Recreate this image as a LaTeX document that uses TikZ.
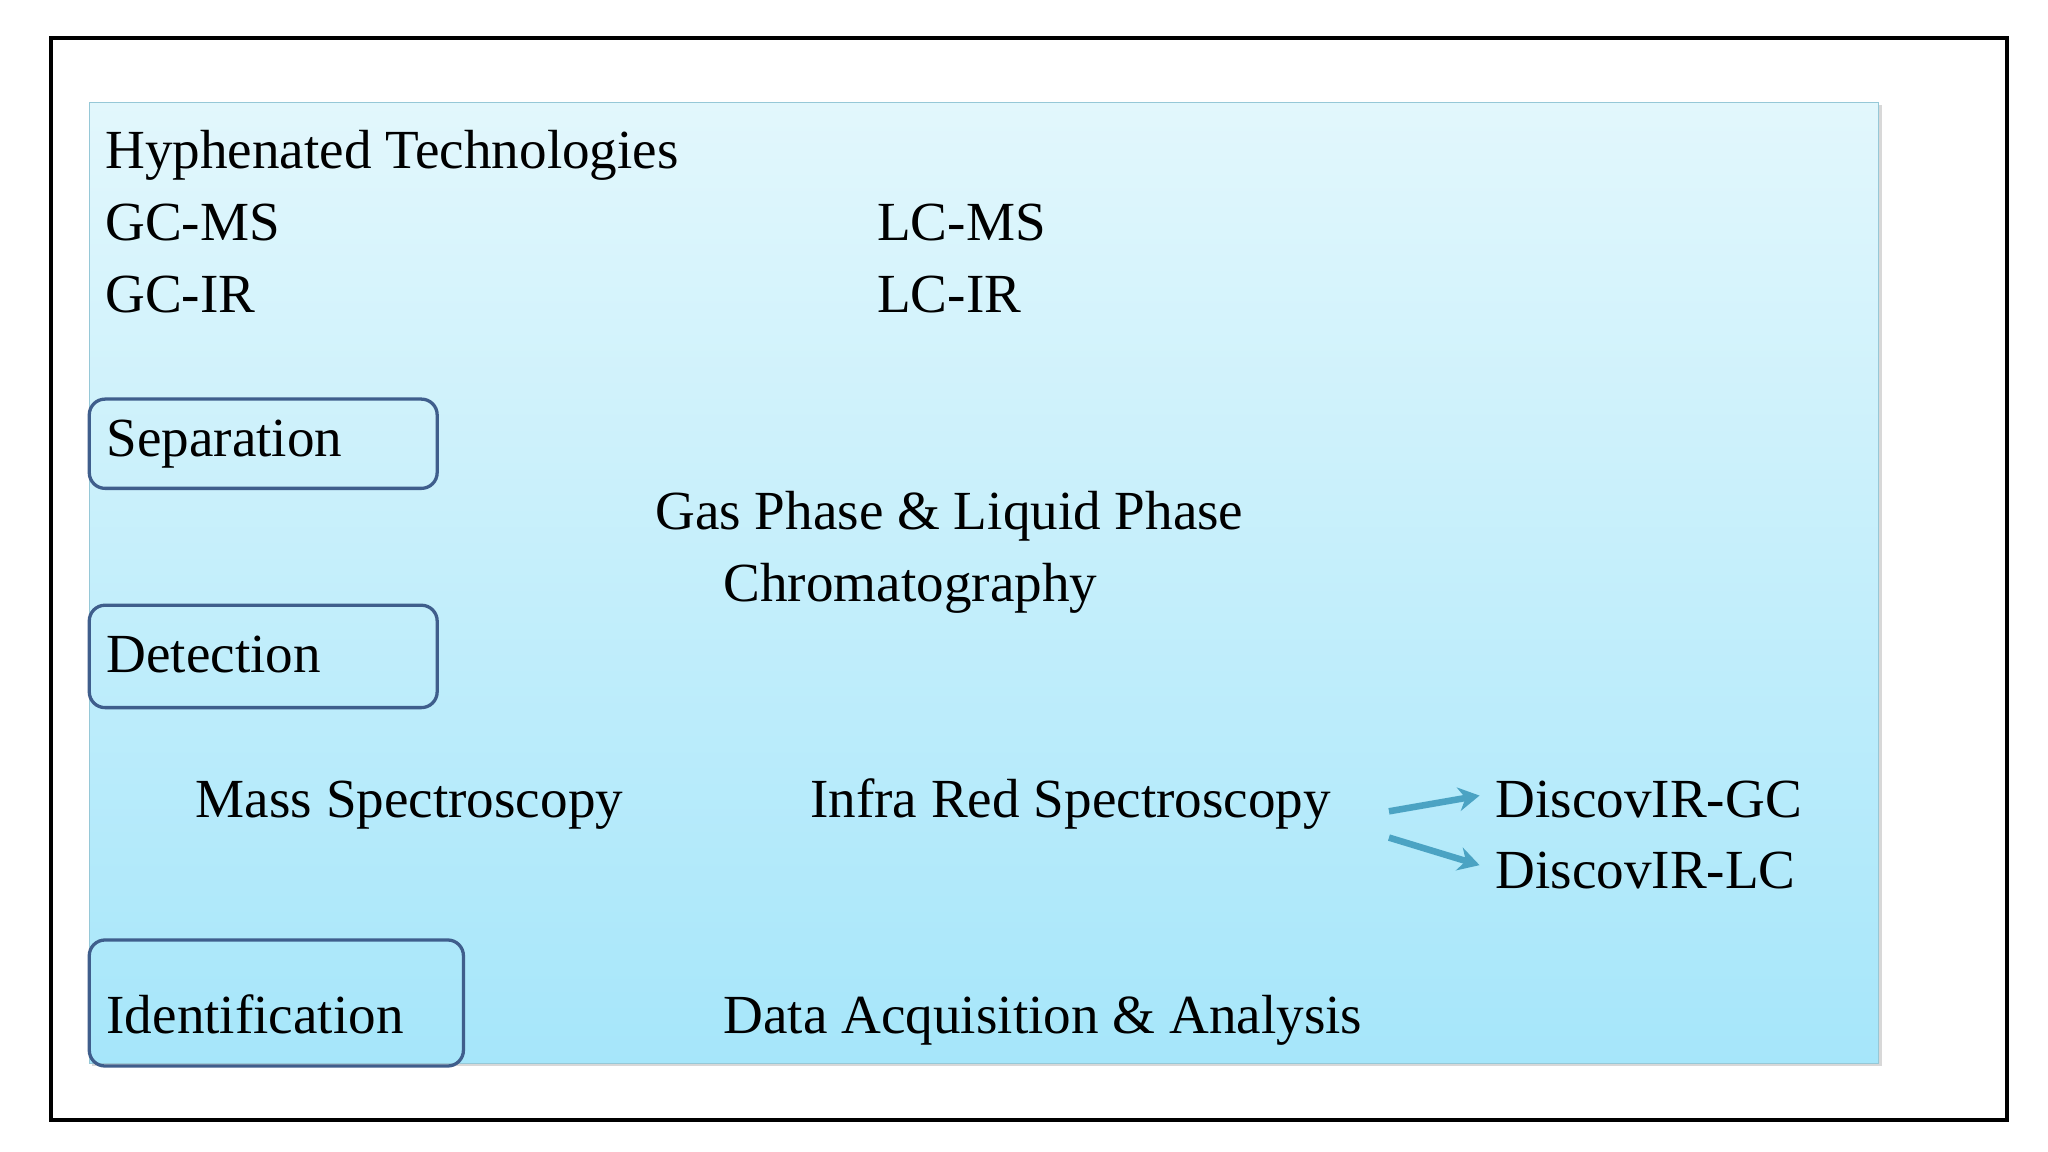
\documentclass[tikz,border=0pt]{standalone}
\usepackage{fontspec}
\setmainfont{Liberation Serif}
\usetikzlibrary{shadows,arrows.meta}
\definecolor{boxb}{HTML}{3F5E8C}
\definecolor{arr}{HTML}{4BA3C3}
\begin{document}
\begin{tikzpicture}[x=1pt,y=-1pt,
  txt/.style={anchor=base west,inner sep=0pt,font=\fontsize{42}{50}\selectfont},
  lbox/.style={draw=boxb,line width=2.5pt,rounded corners=12pt},
  arrw/.style={draw=arr,line width=5pt,-{Stealth[length=16pt,width=18pt]}}]
\useasboundingbox (0,0) rectangle (1560,877.5);
\fill[white] (0,0) rectangle (1560,877.5);
\draw[line width=3pt] (39,29) rectangle (1529,853);
\shade[top color={rgb,255:red,226;green,247;blue,252},bottom color={rgb,255:red,166;green,230;blue,250},drop shadow={opacity=0.3}] (68,78) rectangle (1431,810);
\draw[draw={rgb,255:red,150;green,200;blue,215},line width=1pt] (68,78) rectangle (1431,810);
\draw[lbox] (68,304) rectangle (333,372);
\draw[lbox] (68,461) rectangle (333,539);
\draw[lbox] (68,716) rectangle (353,812);
\node[txt] (ht) at (80,128) {Hyphenated Technologies};
\node[txt] (gcms) at (80,183) {GC-MS};
\node[txt] (gcir) at (80,238) {GC-IR};
\node[txt] (lcms) at (668,183) {LC-MS};
\node[txt] (lcir) at (668,238) {LC-IR};
\node[txt] (sep) at (81,348) {Separation};
\node[txt] (gas) at (499,403) {Gas Phase \& Liquid Phase};
\node[txt] (chr) at (551,458) {Chromatography};
\node[txt] (det) at (81,512) {Detection};
\node[txt] (ms) at (149,623) {Mass Spectroscopy};
\node[txt] (ir) at (617,623) {Infra Red Spectroscopy};
\node[txt] (dgc) at (1139,623) {DiscovIR-GC};
\node[txt] (dlc) at (1139,677) {DiscovIR-LC};
\node[txt] (idn) at (81,787) {Identification};
\node[txt] (daa) at (551,787) {Data Acquisition \& Analysis};
\coordinate (a1) at (1058,618);
\coordinate (a2) at (1058,638);
\coordinate (e1) at (1127,606);
\coordinate (e2) at (1127,659);
\draw[arrw] (a1) -- (e1);
\draw[arrw] (a2) -- (e2);
\end{tikzpicture}
\end{document}
